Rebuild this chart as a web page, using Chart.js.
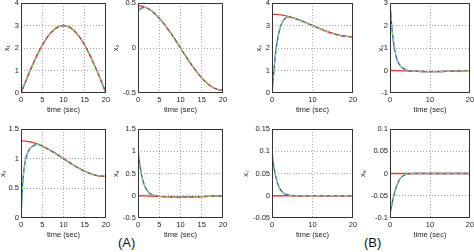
<!DOCTYPE html>
<html>
<head>
<meta charset="utf-8">
<script src="https://cdn.jsdelivr.net/npm/chart.js@4.4.0/dist/chart.umd.min.js"></script>
<style>
  body { margin: 0; width: 474px; height: 252px; overflow: hidden; position: relative; background: #fff;
         font-family: "Liberation Sans", "DejaVu Sans", sans-serif; }
  canvas { position: absolute; }
  .tag { position: absolute; font-size: 13px; color: #111; }
</style>
</head>
<body>
<div class="tag" style="left:118px;top:235px">(A)</div>
<div class="tag" style="left:364px;top:235px">(B)</div>
<script>
// Sample times (sec), shared by every state.
const time = [0, 0.25, 0.5, 1, 1.5, 2, 2.5, 3, 3.5, 4, 5, 6, 7, 8, 9, 10, 11, 12, 13, 14, 15, 16, 17, 18, 19, 20];

// True state (red) and estimate (blue / green dashed).
const x1True = [0, 0.12, 0.24, 0.47, 0.70, 0.93, 1.15, 1.36, 1.57, 1.76, 2.12, 2.43, 2.67, 2.85, 2.96, 3.0, 2.96, 2.85, 2.67, 2.43, 2.12, 1.76, 1.36, 0.93, 0.47, 0];
const x1Est  = [0, 0.12, 0.24, 0.47, 0.70, 0.93, 1.15, 1.36, 1.57, 1.76, 2.12, 2.43, 2.67, 2.85, 2.96, 3.0, 2.96, 2.85, 2.67, 2.43, 2.12, 1.76, 1.36, 0.93, 0.47, 0];
const x2True = [0.47, 0.47, 0.468, 0.464, 0.457, 0.447, 0.434, 0.419, 0.401, 0.38, 0.332, 0.276, 0.213, 0.145, 0.074, 0, -0.074, -0.145, -0.213, -0.276, -0.332, -0.38, -0.419, -0.447, -0.464, -0.47];
const x2Est  = [0.41, 0.425, 0.435, 0.447, 0.452, 0.448, 0.434, 0.419, 0.401, 0.38, 0.332, 0.276, 0.213, 0.145, 0.074, 0, -0.074, -0.145, -0.213, -0.276, -0.332, -0.38, -0.419, -0.447, -0.464, -0.47];
const x3True = [1.3, 1.3, 1.299, 1.296, 1.292, 1.285, 1.277, 1.267, 1.256, 1.243, 1.212, 1.176, 1.136, 1.093, 1.047, 1.0, 0.953, 0.907, 0.864, 0.824, 0.788, 0.757, 0.733, 0.715, 0.704, 0.7];
const x3Est  = [0, 0.42, 0.68, 0.96, 1.09, 1.16, 1.2, 1.22, 1.235, 1.24, 1.212, 1.176, 1.136, 1.093, 1.047, 1.0, 0.953, 0.907, 0.864, 0.824, 0.788, 0.757, 0.733, 0.715, 0.704, 0.7];
const x4True = [0, 0, 0, 0, -0.002, -0.004, -0.006, -0.008, -0.01, -0.012, -0.016, -0.02, -0.024, -0.027, -0.029, -0.03, -0.03, -0.029, -0.027, -0.024, -0.02, -0.016, -0.012, -0.008, -0.004, 0];
const x4Est  = [1.05, 0.82, 0.65, 0.4, 0.24, 0.14, 0.08, 0.04, 0.02, 0.005, -0.016, -0.02, -0.024, -0.027, -0.029, -0.03, -0.03, -0.029, -0.027, -0.024, -0.02, -0.016, -0.012, -0.008, -0.004, 0];
const x5True = [3.5, 3.5, 3.498, 3.494, 3.486, 3.476, 3.462, 3.446, 3.427, 3.405, 3.354, 3.294, 3.227, 3.155, 3.078, 3.0, 2.922, 2.845, 2.773, 2.706, 2.646, 2.595, 2.554, 2.524, 2.506, 2.5];
const x5Est  = [0, 0.55, 1.05, 1.95, 2.5, 2.9, 3.12, 3.27, 3.35, 3.38, 3.354, 3.294, 3.227, 3.155, 3.078, 3.0, 2.922, 2.845, 2.773, 2.706, 2.646, 2.595, 2.554, 2.524, 2.506, 2.5];
const x6True = [0, 0, 0, 0, -0.003, -0.006, -0.01, -0.013, -0.016, -0.02, -0.027, -0.034, -0.04, -0.045, -0.048, -0.05, -0.05, -0.048, -0.045, -0.04, -0.034, -0.027, -0.02, -0.013, -0.006, 0];
const x6Est  = [3.0, 2.4, 1.85, 1.1, 0.65, 0.38, 0.23, 0.13, 0.07, 0.03, -0.02, -0.034, -0.04, -0.045, -0.048, -0.05, -0.05, -0.048, -0.045, -0.04, -0.034, -0.027, -0.02, -0.013, -0.006, 0];
const x7True = [0, 0, 0, 0, 0, 0, 0, 0, 0, 0, 0, 0, 0, 0, 0, 0, 0, 0, 0, 0, 0, 0, 0, 0, 0, 0];
const x7Est  = [0.1, 0.079, 0.063, 0.04, 0.025, 0.015, 0.009, 0.005, 0.003, 0.002, 0.0005, 0, 0, 0, 0, 0, 0, 0, 0, 0, 0, 0, 0, 0, 0, 0];
const x8True = [0, 0, 0, 0, 0, 0, 0, 0, 0, 0, 0, 0, 0, 0, 0, 0, 0, 0, 0, 0, 0, 0, 0, 0, 0, 0];
const x8Est  = [-0.09, -0.08, -0.068, -0.048, -0.032, -0.02, -0.012, -0.007, -0.004, -0.002, -0.0005, 0, 0, 0, 0, 0, 0, 0, 0, 0, 0, 0, 0, 0, 0, 0];

// Tick labels.
const xTicksA = [0, 5, 10, 15, 20];
const xTicksB = [0, 10, 20];
const y1Ticks = [0, 1, 2, 3, 4];
const y2Ticks = [-0.5, 0, 0.5];
const y3Ticks = [0, 0.5, 1, 1.5];
const y4Ticks = [-0.5, 0, 0.5, 1, 1.5];
const y5Ticks = [0, 1, 2, 3, 4];
const y6Ticks = [-1, 0, 1, 2, 3];
const y7Ticks = [-0.05, 0, 0.05, 0.1, 0.15];
const y8Ticks = [-0.1, -0.05, 0, 0.05, 0.1];
const xTitle = 'time (sec)';

// Panel layout: plot box [left, top, right, bottom] and centre of the y title.
const panels = [
    { name: 'x₁', tru: x1True, est: x1Est, xt: xTicksA, yt: y1Ticks, box: [21, 3, 106, 93], titleX: 6.5 },
    { name: 'x₂', tru: x2True, est: x2Est, xt: xTicksA, yt: y2Ticks, box: [138, 3, 223, 93], titleX: 115.5 },
    { name: 'x₅', tru: x5True, est: x5Est, xt: xTicksB, yt: y5Ticks, box: [272, 3, 353, 93], titleX: 258.5 },
    { name: 'x₆', tru: x6True, est: x6Est, xt: xTicksB, yt: y6Ticks, box: [390, 3, 470, 93], titleX: 380.5 },
    { name: 'x₃', tru: x3True, est: x3Est, xt: xTicksA, yt: y3Ticks, box: [21, 129, 106, 218], titleX: 2.5 },
    { name: 'x₄', tru: x4True, est: x4Est, xt: xTicksA, yt: y4Ticks, box: [138, 129, 223, 218], titleX: 115.5 },
    { name: 'x₇', tru: x7True, est: x7Est, xt: xTicksB, yt: y7Ticks, box: [272, 129, 353, 218], titleX: 245.5 },
    { name: 'x₈', tru: x8True, est: x8Est, xt: xTicksB, yt: y8Ticks, box: [390, 129, 470, 218], titleX: 362.5 }
];

const FONT = { family: '"Liberation Sans", "DejaVu Sans", sans-serif', size: 7.5 };
const PAD_TOP = 8, PAD_RIGHT = 8, X_AXIS_H = 21;

// Draws the full axes box round the plot area, MATLAB style.
const boxPlugin = {
    id: 'box',
    afterDraw(chart) {
        const a = chart.chartArea, c = chart.ctx;
        c.save();
        c.strokeStyle = '#333';
        c.lineWidth = 1;
        c.strokeRect(Math.round(a.left) + 0.5, Math.round(a.top) + 0.5,
                     Math.round(a.right - a.left) - 1, Math.round(a.bottom - a.top) - 1);
        c.restore();
    }
};

function series(values) {
    return time.map((t, i) => ({ x: t, y: values[i] }));
}

function gridColor(ticks) {
    const lo = ticks[0], hi = ticks[ticks.length - 1];
    return ctx => (ctx.tick && (ctx.tick.value === lo || ctx.tick.value === hi)) ? 'rgba(0,0,0,0)' : '#a5a5a5';
}

function makePanel(p) {
    const [l, t, r, b] = p.box;
    const left = Math.round(p.titleX - 5.5);
    const yW = l - left;
    const canvas = document.createElement('canvas');
    canvas.width = yW + (r - l) + PAD_RIGHT;
    canvas.height = PAD_TOP + (b - t) + X_AXIS_H;
    canvas.style.left = left + 'px';
    canvas.style.top = (t - PAD_TOP) + 'px';
    document.body.appendChild(canvas);

    new Chart(canvas.getContext('2d'), {
        type: 'line',
        data: {
            datasets: [
                { data: series(p.est), borderColor: '#78da6e', borderWidth: 1.3, borderDash: [4, 3] },
                { data: series(p.tru), borderColor: '#e23b3b', borderWidth: 1.3 },
                { data: series(p.est), borderColor: '#2f52c4', borderWidth: 1.3 }
            ]
        },
        options: {
            responsive: false,
            animation: false,
            devicePixelRatio: 1,
            layout: { padding: { top: PAD_TOP, right: PAD_RIGHT, left: 0, bottom: 0 } },
            elements: { point: { radius: 0 }, line: { cubicInterpolationMode: 'monotone' } },
            plugins: { legend: { display: false }, tooltip: { enabled: false } },
            scales: {
                x: {
                    type: 'linear',
                    min: p.xt[0], max: p.xt[p.xt.length - 1],
                    afterBuildTicks: s => { s.ticks = p.xt.map(v => ({ value: v })); },
                    afterFit: s => { s.height = X_AXIS_H; },
                    ticks: { font: FONT, color: '#222', padding: 2, maxRotation: 0, callback: v => String(v) },
                    grid: { color: gridColor(p.xt), drawTicks: false, lineWidth: 1 },
                    border: { display: false, dash: [1, 2] },
                    title: { display: true, text: xTitle, font: FONT, color: '#222', padding: 0 }
                },
                y: {
                    type: 'linear',
                    min: p.yt[0], max: p.yt[p.yt.length - 1],
                    afterBuildTicks: s => { s.ticks = p.yt.map(v => ({ value: v })); },
                    afterFit: s => { s.width = yW; },
                    ticks: { font: FONT, color: '#222', padding: 2, callback: v => String(v) },
                    grid: { color: gridColor(p.yt), drawTicks: false, lineWidth: 1 },
                    border: { display: false, dash: [1, 2] },
                    title: { display: true, text: p.name, font: FONT, color: '#222', padding: { top: 1, bottom: 0 } }
                }
            }
        },
        plugins: [boxPlugin]
    });
}

panels.forEach(makePanel);
</script>
</body>
</html>
